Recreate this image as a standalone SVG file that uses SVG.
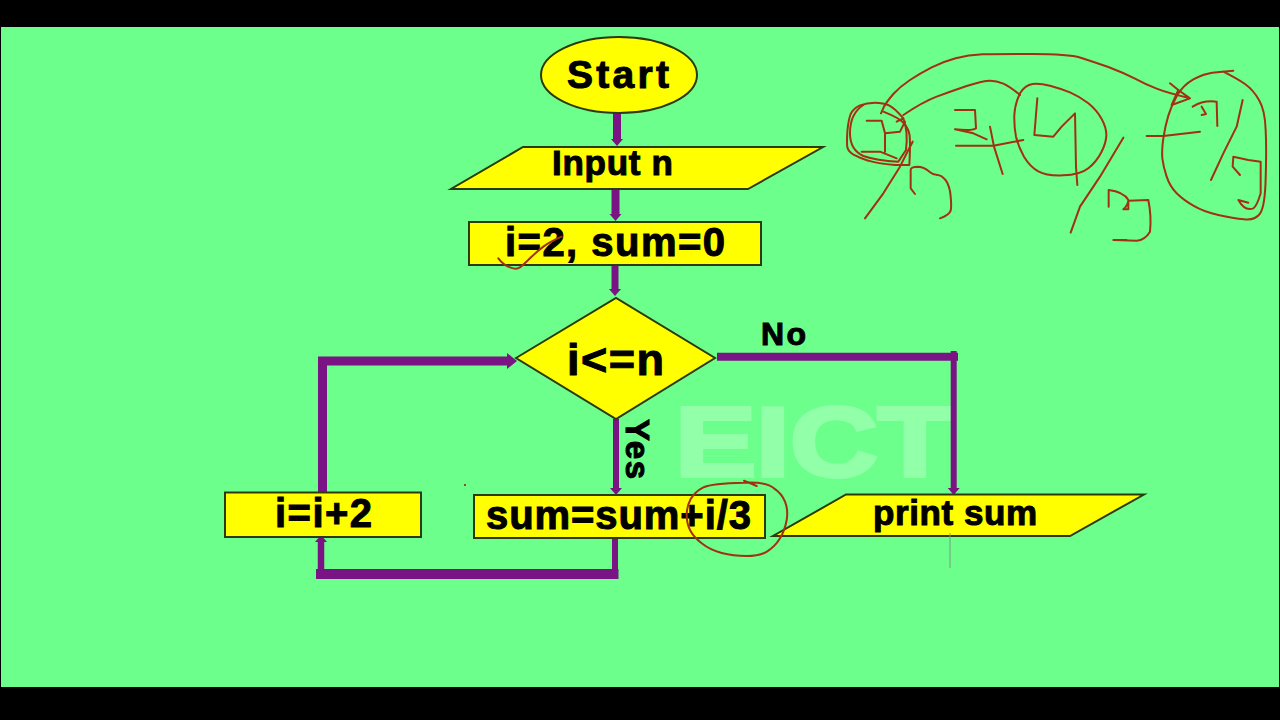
<svg xmlns="http://www.w3.org/2000/svg" width="1280" height="720" viewBox="0 0 1280 720">
<style>
.box{fill:#ffff00;stroke:#2c3a10;stroke-width:2}
.t{font-family:"Liberation Sans",Arial,sans-serif;font-weight:bold;fill:#000;stroke:#000;stroke-width:1}
.c{fill:none;stroke:#7a1484;stroke-linejoin:miter}
.s{fill:none;stroke:#a33010;stroke-width:6;stroke-linejoin:round;stroke-linecap:round}
</style>
<defs>
<marker id="head" markerUnits="userSpaceOnUse" markerWidth="9" markerHeight="14" refX="0" refY="7" orient="auto"><path d="M0 1L7 7L0 13z" fill="#7a1484"/></marker>
<marker id="headL" markerUnits="userSpaceOnUse" markerWidth="11" markerHeight="18" refX="0" refY="9" orient="auto"><path d="M0 1L10 9L0 17z" fill="#7a1484"/></marker>
</defs>
<rect width="1280" height="720" fill="#000"/>
<rect x="1" y="27" width="1278" height="660" fill="#6cff8b"/>
<text x="675" y="476" font-family="'Liberation Sans',Arial,sans-serif" font-weight="bold" font-size="99" textLength="277" lengthAdjust="spacingAndGlyphs" fill="#fff" stroke="#fff" stroke-width="4" opacity=".26">EICT</text>
<g id="connectors">
<path class="c" stroke-width="8" d="M617 113V139" marker-end="url(#head)"/>
<path class="c" stroke-width="8" d="M615.500 189V214" marker-end="url(#head)"/>
<path class="c" stroke-width="7" d="M615 265V289" marker-end="url(#head)"/>
<path class="c" stroke-width="9" d="M322.500 492V361H507" marker-end="url(#headL)"/>
<path class="c" stroke-width="6" d="M616 419V488" marker-end="url(#head)"/>
<path class="c" stroke-width="6" d="M615 538V574"/>
<path class="c" stroke-width="10" d="M618.500 574H316"/>
<path class="c" stroke-width="6.500" d="M321 570V542" marker-end="url(#head)"/>
<path class="c" stroke-width="8" d="M717 356.700H958"/>
<path class="c" stroke-width="6" d="M953.700 351V488" marker-end="url(#head)"/>
</g>
<g id="start"><ellipse class="box" cx="619" cy="75" rx="78" ry="38"/><text class="t" x="567" y="88" font-size="39" textLength="102" lengthAdjust="spacing">Start</text></g>
<g id="input"><polygon class="box" points="523,147 823,147 748,189 451,189"/><text class="t" x="552" y="175" font-size="35" textLength="121" lengthAdjust="spacing">Input n</text></g>
<g id="init"><rect class="box" x="469" y="222" width="292" height="43"/><text class="t" x="505" y="256" font-size="40" textLength="220" lengthAdjust="spacing">i=2, sum=0</text></g>
<g id="decision"><polygon class="box" points="516,358 616,298 715,358 616,419"/><text class="t" x="567" y="375" font-size="45" textLength="97" lengthAdjust="spacing">i&lt;=n</text></g>
<g id="increment"><rect class="box" x="225" y="492.500" width="196" height="44.500"/><text class="t" x="275" y="527" font-size="40" textLength="97" lengthAdjust="spacing">i=i+2</text></g>
<g id="update"><rect class="box" x="474" y="495" width="291" height="43"/><text class="t" x="486" y="529" font-size="40" textLength="265" lengthAdjust="spacing">sum=sum+i/3</text></g>
<g id="print"><polygon class="box" points="846,494.500 1144,494.500 1070,536 773,536"/><text class="t" x="873" y="525" font-size="35" textLength="164" lengthAdjust="spacing">print sum</text></g>
<text class="t" x="761" y="345" font-size="32" textLength="45" lengthAdjust="spacing">No</text>
<text class="t" transform="translate(626 419) rotate(90)" font-size="33" textLength="60" lengthAdjust="spacing">Yes</text>
<path d="M950 533V568" stroke="#7f9c80" stroke-width="1" fill="none"/>
<circle cx="465" cy="485" r="1" fill="#7a2010"/>
<g id="scribble-top" transform="translate(840 50) scale(.33333)">
<path class="s" d="M123 190L131 172Q140 155 160 132Q180 110 210 90Q240 70 275 52Q310 35 347 25Q385 15 428 13Q470 12 577 12Q685 12 722 23Q760 35 805 51Q850 68 885 86Q920 105 950 116Q980 128 1050 145L1015 120L995 165L1050 145M990 100L1015 120"/>
<path class="s" d="M130 185Q180 205 192 220Q205 235 208 252Q212 270 208 345L165 345Q110 340 85 332Q60 325 42 315Q25 305 22 292Q20 280 22 245Q25 210 32 192Q40 175 60 166Q80 158 105 158Q130 158 147 166Q165 175 190 205"/>
<path class="s" d="M170 215L190 205Q205 245 198 300L175 335Q110 332 70 318Q30 300 30 250Q30 190 70 165"/>
<path class="s" d="M190 195Q250 155 290 140Q330 125 380 108Q430 92 450 92Q470 92 490 101Q510 110 540 135"/>
<path class="s" d="M80 212L125 212L135 250L135 305M135 250L180 245L195 215M65 305L120 305L170 325"/>
<path class="s" d="M75 505L130 430L180 350L205 300L218 275"/>
<path class="s" d="M225 432L212 415L212 360Q212 350 235 350Q255 352 268 365Q280 375 292 375Q305 375 318 392Q330 410 332 440Q335 470 332 482Q328 495 300 505"/>
<path class="s" d="M345 180L405 180L408 235Q395 243 345 238L400 250L440 268"/>
<path class="s" d="M348 287L460 287L550 270M450 230L462 290L488 372"/>
<path class="s" d="M540 130Q555 105 578 102Q600 100 630 107Q660 115 690 127Q720 140 745 160Q770 180 785 207Q800 235 799 257Q798 280 784 307Q770 335 745 355Q720 375 670 376Q620 378 595 364Q570 350 552 320Q535 290 528 260Q522 230 523 195Q525 160 540 130"/>
<path class="s" d="M592 145L583 255L640 260L665 230L705 190L708 350L712 405"/>
<path class="s" d="M850 263L780 380L720 470L692 548"/>
<path class="s" d="M806 470L806 420Q850 425 865 450Q865 465 850 478L865 478L865 452L925 450Q935 500 930 545Q915 570 890 572L820 570L860 570"/>
<path class="s" d="M920 258L970 258L1080 245"/>
<path class="s" d="M1180 62Q1145 65 1117 68Q1090 72 1060 88Q1030 105 1012 135Q995 165 985 197Q975 230 970 265Q965 300 967 325Q970 350 980 380Q990 410 1010 430Q1030 450 1060 467Q1090 485 1135 495Q1180 505 1212 508Q1245 512 1260 491Q1275 470 1277 385Q1280 300 1277 240Q1275 180 1257 150Q1240 120 1215 102Q1190 85 1150 65"/>
<path class="s" d="M1058 170Q1090 150 1130 155L1132 228M1085 170L1098 192L1085 195"/>
<path class="s" d="M1208 150L1190 230L1150 310L1113 390"/>
<path class="s" d="M1200 375L1178 350L1180 320L1225 330L1262 335L1262 430Q1250 470 1240 475Q1215 485 1195 450L1225 458"/>
</g>
<path class="s" transform="translate(440 130) scale(.33333)" d="M175 385Q190 405 210 412Q230 420 240 412Q250 405 270 385Q290 365 310 350Q330 335 365 320"/>
<path class="s" transform="translate(640 310) scale(.33333)" d="M350 528L312 512M312 518Q380 515 402 535Q425 550 435 575Q445 600 440 630Q435 660 420 685Q405 710 382 724Q360 738 320 738Q280 738 245 729Q210 720 185 700Q160 680 150 660Q140 640 140 615Q140 590 152 567Q165 545 190 532Q215 520 312 518"/>
</svg>
